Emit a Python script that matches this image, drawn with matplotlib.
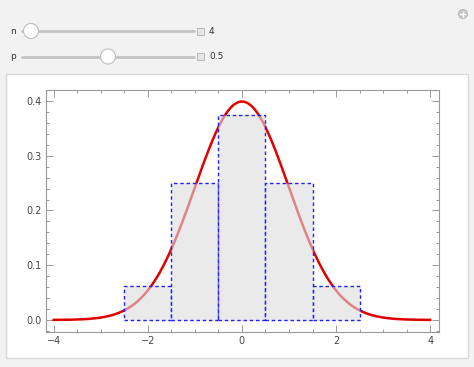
import numpy as np
import matplotlib.pyplot as plt
from matplotlib.patches import Rectangle, Circle, FancyBboxPatch
from matplotlib.ticker import MultipleLocator

# slider settings
n = 4
p = 0.5

# binomial probabilities for k = 0..4, shown at standardized positions
centers = [-2, -1, 0, 1, 2]
probs = [0.0625, 0.25, 0.375, 0.25, 0.0625]

xticks = [-4, -2, 0, 2, 4]
yticks = [0.0, 0.1, 0.2, 0.3, 0.4]

# normal approximation curve
mu = 0.0
sigma = 1.0
xs = np.linspace(-4, 4, 400)
ys = np.exp(-0.5 * ((xs - mu) / sigma) ** 2) / (sigma * np.sqrt(2 * np.pi))

fig = plt.figure(figsize=(4.74, 3.67), dpi=100)
fig.patch.set_facecolor('#f2f2f2')

# background layer in pixel coordinates (panel + slider widgets)
bg = fig.add_axes([0, 0, 1, 1])
bg.set_xlim(0, 474)
bg.set_ylim(367, 0)
bg.axis('off')
bg.add_patch(Rectangle((6, 74), 462, 284, facecolor='white', edgecolor='#d8d8d8', lw=1))

for label, val, yy, kx in [('n', '4', 31, 31), ('p', '0.5', 56.5, 108)]:
    bg.text(13, yy, label, fontsize=6.5, color='#333333', ha='center', va='center')
    bg.plot([22, 194], [yy, yy], color='#c4c4c4', lw=2, solid_capstyle='round')
    bg.add_patch(Circle((kx, yy), 7.5, facecolor='white', edgecolor='#bdbdbd', lw=0.8, zorder=3))
    bg.add_patch(Rectangle((197.5, yy - 3.5), 7, 7, facecolor='#e6e6e6', edgecolor='#b0b0b0', lw=0.6))
    bg.text(209, yy, val, fontsize=6.5, color='#333333', ha='left', va='center')

bg.add_patch(Circle((463, 14), 4.5, facecolor='#c8c8c8', edgecolor='#b0b0b0', lw=0.6))
bg.plot([460.5, 465.5], [14, 14], color='white', lw=1)
bg.plot([463, 463], [11.5, 16.5], color='white', lw=1)

# main plot
ax = fig.add_axes([0.0964, 0.0962, 0.829, 0.6586])
ax.set_facecolor('white')
ax.plot(xs, ys, color='#e00000', lw=1.8, zorder=2)
ax.bar(centers, probs, width=1.0, facecolor=(0.865, 0.865, 0.865, 0.6),
       edgecolor='#2020ff', linestyle=(0, (2.5, 2)), linewidth=1.0, zorder=3)

ax.set_xlim(-4.17, 4.18)
ax.set_ylim(-0.0214, 0.42)
ax.set_xticks(xticks)
ax.set_xticklabels(['\u22124', '\u22122', '0', '2', '4'])
ax.set_yticks(yticks)
ax.set_yticklabels(['0.0', '0.1', '0.2', '0.3', '0.4'])
ax.xaxis.set_minor_locator(MultipleLocator(0.5))
ax.yaxis.set_minor_locator(MultipleLocator(0.02))
ax.tick_params(which='both', direction='in', top=True, right=True,
               color='#888888', labelsize=7, labelcolor='#444444', width=0.6)
ax.tick_params(which='major', length=5, pad=3)
ax.tick_params(which='minor', length=2.5)
for s in ax.spines.values():
    s.set_color('#999999')
    s.set_linewidth(0.8)

fig.savefig('out.png', dpi=100, facecolor=fig.get_facecolor())
